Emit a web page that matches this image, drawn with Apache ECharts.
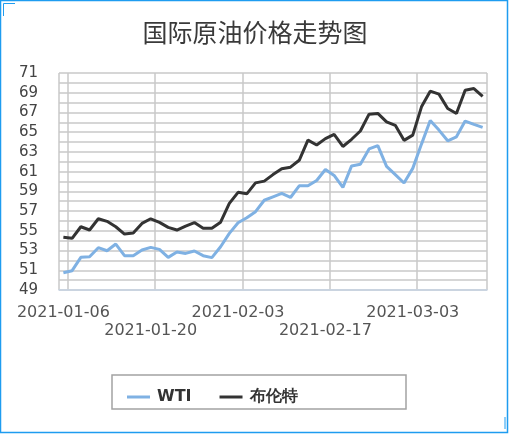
<!DOCTYPE html>
<html>
<head>
<meta charset="utf-8">
<script src="https://cdn.jsdelivr.net/npm/echarts@6/dist/echarts.min.js"></script>
<style>
  html, body { margin: 0; padding: 0; background: #fff; }
  #main { width: 510px; height: 434px; }
</style>
</head>
<body>
<div id="main"></div>
<script>
// trading days, 2021-01-06 .. 2021-03-15
var dates = [
  '2021-01-06', '2021-01-07', '2021-01-08', '2021-01-11', '2021-01-12', '2021-01-13',
  '2021-01-14', '2021-01-15', '2021-01-18', '2021-01-19', '2021-01-20', '2021-01-21',
  '2021-01-22', '2021-01-25', '2021-01-26', '2021-01-27', '2021-01-28', '2021-01-29',
  '2021-02-01', '2021-02-02', '2021-02-03', '2021-02-04', '2021-02-05', '2021-02-08',
  '2021-02-09', '2021-02-10', '2021-02-11', '2021-02-12', '2021-02-15', '2021-02-16',
  '2021-02-17', '2021-02-18', '2021-02-19', '2021-02-22', '2021-02-23', '2021-02-24',
  '2021-02-25', '2021-02-26', '2021-03-01', '2021-03-02', '2021-03-03', '2021-03-04',
  '2021-03-05', '2021-03-08', '2021-03-09', '2021-03-10', '2021-03-11', '2021-03-12',
  '2021-03-15'
];

var wti = [
  50.75, 50.96, 52.31, 52.37, 53.29, 52.98, 53.66, 52.48, 52.48, 53.05,
  53.32, 53.12, 52.31, 52.86, 52.71, 52.95, 52.48, 52.28, 53.39, 54.74,
  55.82, 56.33, 56.94, 58.10, 58.45, 58.80, 58.38, 59.56, 59.56, 60.10,
  61.22, 60.62, 59.40, 61.58, 61.75, 63.30, 63.64, 61.53, 60.70, 59.85,
  61.33, 63.79, 66.18, 65.21, 64.13, 64.53, 66.13, 65.79, 65.48
];

var brent = [
  54.34, 54.24, 55.41, 55.08, 56.22, 55.96, 55.41, 54.67, 54.77, 55.75,
  56.22, 55.86, 55.35, 55.08, 55.48, 55.84, 55.25, 55.25, 55.87, 57.78,
  58.90, 58.75, 59.86, 60.04, 60.70, 61.30, 61.45, 62.15, 64.20, 63.70,
  64.35, 64.78, 63.55, 64.28, 65.12, 66.83, 66.90, 66.05, 65.70, 64.17,
  64.70, 67.57, 69.16, 68.86, 67.40, 66.90, 69.26, 69.42, 68.63
];

var seriesNames = ['WTI', '布伦特'];
var yMin = 49, yMax = 71;

var chart = echarts.init(document.getElementById('main'));

// grid lines sit on the band boundary just after each labelled day
function onMark(i) { return i === 0 || i % 10 === 1; }

var labelFont = {
  fontFamily: 'DejaVu Sans',
  fontSize: 16,
  color: '#555'
};

var option = {
  animation: false,
  title: {
    text: '国际原油价格走势图',
    left: 'center',
    top: 15,
    textStyle: {
      fontFamily: 'Noto Sans CJK SC',
      fontSize: 25,
      fontWeight: 'normal',
      color: '#3a3a3a'
    }
  },
  legend: {
    data: seriesNames,
    left: 122,
    top: 384,
    icon: 'rect',
    itemWidth: 23,
    itemHeight: 3,
    itemGap: 28,
    textStyle: {
      fontFamily: 'DejaVu Sans',
      fontSize: 16,
      fontWeight: 'bold',
      color: '#333',
      padding: [0, 0, 0, 2]
    }
  },
  grid: { left: 59, right: 23, top: 73, bottom: 144 },
  xAxis: [
    {
      // upper row of dates, grid lines and ticks
      type: 'category',
      data: dates,
      boundaryGap: true,
      axisLine: { lineStyle: { color: '#c6d3e4', width: 1.5 } },
      axisTick: {
        interval: onMark,
        length: 13,
        lineStyle: { color: '#c6d3e4', width: 1.5 }
      },
      splitLine: {
        show: true,
        interval: onMark,
        lineStyle: { color: '#c8c8c8', width: 1.5 }
      },
      axisLabel: Object.assign({
        interval: function (i) { return i % 20 === 0; },
        margin: 15
      }, labelFont)
    },
    {
      // lower row of dates
      type: 'category',
      data: dates,
      position: 'bottom',
      boundaryGap: true,
      axisLine: { show: false },
      axisTick: { show: false },
      splitLine: { show: false },
      axisLabel: Object.assign({
        interval: function (i) { return i % 20 === 10; },
        margin: 33
      }, labelFont)
    }
  ],
  yAxis: {
    type: 'value',
    min: yMin,
    max: yMax,
    interval: 1,
    axisLine: { show: false },
    axisTick: { show: false },
    splitLine: { lineStyle: { color: '#c8c8c8', width: 1.5 } },
    axisLabel: {
      formatter: function (v) { return (v - yMin) % 2 === 0 ? v : ''; },
      fontFamily: 'DejaVu Sans',
      fontSize: 15,
      color: '#444',
      margin: 21
    }
  },
  series: [
    {
      name: seriesNames[0],
      type: 'line',
      data: wti,
      symbol: 'none',
      lineStyle: { color: '#7fb1e3', width: 3 },
      itemStyle: { color: '#7fb1e3' }
    },
    {
      name: seriesNames[1],
      type: 'line',
      data: brent,
      symbol: 'none',
      lineStyle: { color: '#333333', width: 3 },
      itemStyle: { color: '#333333' }
    }
  ],
  graphic: [
    {
      type: 'rect',
      shape: { x: 112, y: 375, width: 294, height: 34 },
      style: { fill: 'none', stroke: '#a3a3a3', lineWidth: 1.5 }
    },
    {
      type: 'rect',
      shape: { x: 0.5, y: 0.5, width: 507, height: 432 },
      style: { fill: 'none', stroke: '#1e9cf0', lineWidth: 1.5 }
    },
    {
      type: 'polyline',
      shape: { points: [[3.5, 16], [3.5, 3.5], [15, 3.5]] },
      style: { fill: 'none', stroke: '#1e9cf0', lineWidth: 1 }
    },
    {
      type: 'line',
      shape: { x1: 505, y1: 417, x2: 505, y2: 429 },
      style: { stroke: '#1e9cf0', lineWidth: 1 }
    }
  ]
};

chart.setOption(option);
</script>
</body>
</html>
